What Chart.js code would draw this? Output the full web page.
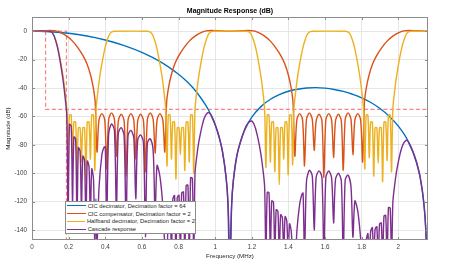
<!DOCTYPE html>
<html lang="en">
<head>
  <meta charset="UTF-8">
  <title>Magnitude Response (dB)</title>
  <script src="https://cdn.jsdelivr.net/npm/chart.js"></script>
  <style>
    * {
      margin: 0;
      padding: 0;
      box-sizing: border-box;
    }

    body {
      background: #fff;
      font-family: 'Liberation Sans', Arial, Helvetica, sans-serif;
    }

    .wrap {
      position: relative;
      width: 474px;
      height: 266px;
    }

    /* legend sits inside the axes, lower left */
    #legend {
      position: absolute;
      left: 65px;
      top: 201px;
      width: 131px;
      border: 1px solid #8c8c8c;
      background: #fff;
    }

    .row {
      display: flex;
      align-items: center;
      height: 7.8px;
      font-size: 5.8px;
      color: #262626;
      white-space: nowrap;
    }

    .swatch {
      display: inline-block;
      width: 19px;
      height: 0;
      border-top: 1.4px solid;
      margin-left: 1px;
      margin-right: 1.7px;
    }
  </style>
</head>
<body>
  <div class="wrap">
    <canvas id="magChart" width="474" height="266"></canvas>
    <div id="legend"></div>
  </div>

  <script>
    // frequency in MHz, magnitude in dB
    const xTicks = [0, 0.2, 0.4, 0.6, 0.8, 1, 1.2, 1.4, 1.6, 1.8, 2];
    const yTicks = [-140, -120, -100, -80, -60, -40, -20, 0];

    const legendLabels = [
      'CIC decimator, Decimation factor = 64',
      'CIC compensator, Decimation factor = 2',
      'Halfband decimator, Decimation factor = 2',
      'Cascade response'
    ];

    const cicDecimator = [
      [0,0],[0.1,-0.37],[0.2,-1.49],[0.3,-3.4],[0.4,-6.17],[0.5,-9.94],[0.6,-14.91],[0.7,-21.46],
      [0.8,-30.32],[0.85,-36],[0.9,-43.14],[0.95,-52.4],[0.98,-59.8],[1.0,-66.05],[1.02,-73.96],
      [1.04,-84.95],[1.06,-103.5],[1.07,-121.7],[1.075,-139.9],[1.08,-190],[1.085,-140.2],
      [1.09,-122.2],[1.1,-104.5],[1.12,-86.9],[1.14,-76.9],[1.16,-69.9],[1.2,-60.5],[1.25,-53.1],
      [1.3,-48.1],[1.35,-44.7],[1.4,-42.3],[1.45,-40.9],[1.5,-40],[1.55,-39.75],[1.6,-40.1],
      [1.65,-41],[1.7,-42.4],[1.75,-44.4],[1.8,-46.9],[1.85,-50.2],[1.9,-54.4],[1.95,-59.8],
      [2.0,-66.8],[2.05,-76.6],[2.1,-92.8],[2.13,-111.1],[2.15,-140],[2.16,-190]
    ];

    const cicCompensator = [
      [0,0],[0.06,0.3],[0.1,0.5],[0.13,0.2],[0.16,-1.2],[0.19,-3.5],[0.22,-6.8],[0.25,-11.5],
      [0.28,-17.5],[0.3,-23],[0.32,-31],[0.335,-40],[0.345,-50],[0.355,-85],
      [0.3656,-62.6],[0.3814,-58],[0.3973,-62.6],[0.4079,-97],
      [0.4185,-62.1],[0.4343,-57.5],[0.4502,-62.1],[0.4607,-88],
      [0.4713,-63.1],[0.4871,-58.5],[0.503,-63.1],[0.5136,-102],
      [0.5242,-62.6],[0.54,-58],[0.5559,-62.6],[0.5664,-90],
      [0.577,-63.1],[0.5929,-58.5],[0.6087,-63.1],[0.6193,-99],
      [0.6299,-62.1],[0.6457,-57.5],[0.6616,-62.1],[0.6721,-86],
      [0.6827,-62.6],[0.6986,-58],[0.7144,-62.6],[0.725,-85],
      [0.735,-50],[0.745,-40],[0.76,-31],[0.78,-23],[0.8,-17.5],[0.83,-11.5],[0.86,-6.8],
      [0.89,-3.5],[0.92,-1.2],[0.95,0.2],[0.98,0.5],[1.02,0.3],[1.08,0],[1.14,0.3],[1.18,0.5],
      [1.21,0.2],[1.24,-1.2],[1.27,-3.5],[1.3,-6.8],[1.33,-11.5],[1.36,-17.5],[1.38,-23],
      [1.4,-31],[1.415,-40],[1.425,-50],[1.435,-88],
      [1.4456,-62.6],[1.4614,-58],[1.4773,-62.6],[1.4879,-95],
      [1.4985,-62.1],[1.5143,-57.5],[1.5302,-62.1],[1.5407,-84],
      [1.5513,-63.1],[1.5671,-58.5],[1.583,-63.1],[1.5936,-103],
      [1.6042,-62.6],[1.62,-58],[1.6359,-62.6],[1.6464,-89],
      [1.657,-63.1],[1.6729,-58.5],[1.6887,-63.1],[1.6993,-98],
      [1.7099,-62.1],[1.7257,-57.5],[1.7416,-62.1],[1.7521,-87],
      [1.7627,-62.6],[1.7786,-58],[1.7944,-62.6],[1.805,-92],
      [1.815,-50],[1.825,-40],[1.84,-31],[1.86,-23],[1.88,-17.5],[1.91,-11.5],[1.94,-6.8],
      [1.97,-3.5],[2.0,-1.2],[2.03,0.2],[2.06,0.5],[2.1,0.3],[2.16,0]
    ];

    const halfband = [
      [0,0],[0.09,0],[0.1,-0.3],[0.11,-1],[0.12,-3],[0.13,-6.5],[0.14,-11],[0.15,-17],[0.16,-24],
      [0.17,-32],[0.18,-42],[0.19,-55],[0.197,-95],
      [0.2043,-59],[0.214,-59],[0.2213,-88],[0.2286,-64],[0.2383,-64],[0.2457,-100],
      [0.253,-68],[0.2627,-68],[0.27,-92],[0.2773,-68],[0.287,-68],[0.2943,-105],
      [0.3016,-64],[0.3113,-64],[0.3187,-90],[0.326,-59],[0.3357,-59],[0.343,-98],
      [0.35,-55],[0.36,-42],[0.37,-32],[0.38,-24],[0.39,-17],[0.4,-11],[0.41,-6.5],[0.42,-3],
      [0.43,-1],[0.44,-0.3],[0.45,0],[0.63,0],[0.64,-0.3],[0.65,-1],[0.66,-3],[0.67,-6.5],
      [0.68,-11],[0.69,-17],[0.7,-24],[0.71,-32],[0.72,-42],[0.73,-55],[0.737,-95],
      [0.7443,-59],[0.754,-59],[0.7613,-90],[0.7686,-64],[0.7783,-64],[0.7857,-104],
      [0.793,-68],[0.8027,-68],[0.81,-87],[0.8173,-68],[0.827,-68],[0.8343,-98],
      [0.8416,-64],[0.8513,-64],[0.8587,-92],[0.866,-59],[0.8757,-59],[0.883,-100],
      [0.89,-55],[0.9,-42],[0.91,-32],[0.92,-24],[0.93,-17],[0.94,-11],[0.95,-6.5],[0.96,-3],
      [0.97,-1],[0.98,-0.3],[0.99,0],[1.17,0],[1.18,-0.3],[1.19,-1],[1.2,-3],[1.21,-6.5],
      [1.22,-11],[1.23,-17],[1.24,-24],[1.25,-32],[1.26,-42],[1.27,-55],[1.277,-96],
      [1.2843,-59],[1.294,-59],[1.3013,-92],[1.3086,-64],[1.3183,-64],[1.3257,-99],
      [1.333,-68],[1.3427,-68],[1.35,-108],[1.3573,-68],[1.367,-68],[1.3743,-90],
      [1.3816,-64],[1.3913,-64],[1.3987,-101],[1.406,-59],[1.4157,-59],[1.423,-94],
      [1.43,-55],[1.44,-42],[1.45,-32],[1.46,-24],[1.47,-17],[1.48,-11],[1.49,-6.5],[1.5,-3],
      [1.51,-1],[1.52,-0.3],[1.53,0],[1.71,0],[1.72,-0.3],[1.73,-1],[1.74,-3],[1.75,-6.5],
      [1.76,-11],[1.77,-17],[1.78,-24],[1.79,-32],[1.8,-42],[1.81,-55],[1.817,-97],
      [1.8243,-59],[1.834,-59],[1.8413,-89],[1.8486,-64],[1.8583,-64],[1.8657,-102],
      [1.873,-68],[1.8827,-68],[1.89,-93],[1.8973,-68],[1.907,-68],[1.9143,-106],
      [1.9216,-64],[1.9313,-64],[1.9387,-91],[1.946,-59],[1.9557,-59],[1.963,-99],
      [1.97,-55],[1.98,-42],[1.99,-32],[2.0,-24],[2.01,-17],[2.02,-11],[2.03,-6.5],[2.04,-3],
      [2.05,-1],[2.06,-0.3],[2.07,0],[2.16,0]
    ];

    const cascade = [
      [0,0],[0.05,0.2],[0.1,-0.2],[0.11,-1],[0.12,-3.2],[0.13,-7],[0.14,-11.9],[0.15,-18.4],
      [0.16,-26.2],[0.17,-34.9],[0.18,-45.8],[0.19,-59.8],[0.197,-135],
      [0.2043,-65.6],[0.214,-66.8],[0.2213,-120],[0.2286,-74.5],[0.2383,-76],[0.2457,-135],
      [0.253,-82],[0.2627,-84.5],[0.27,-125],[0.2773,-88],[0.287,-91],[0.2943,-140],
      [0.3016,-91.5],[0.3113,-95.5],[0.3187,-132],[0.326,-97],[0.3357,-104],[0.343,-150],
      [0.349,-118],[0.355,-150],
      [0.366,-110],[0.3815,-87],[0.392,-82],[0.4,-81.5],[0.4079,-135],
      [0.4185,-72.3],[0.4343,-65.3],[0.4502,-70],[0.4607,-128],
      [0.4713,-71.9],[0.4871,-67.9],[0.503,-73.7],[0.5136,-140],
      [0.5242,-73.6],[0.54,-69.8],[0.5559,-75.2],[0.5664,-118],
      [0.577,-76.7],[0.5929,-73],[0.6087,-78.6],[0.6193,-145],
      [0.6299,-78.7],[0.6457,-75.7],[0.6616,-84.4],[0.6721,-130],
      [0.6827,-94.6],[0.6986,-102.4],[0.714,-122.6],[0.725,-150],[0.737,-160],
      [0.7443,-124.5],[0.754,-122],[0.7613,-160],[0.7686,-118.5],[0.7783,-115.7],[0.7857,-160],
      [0.793,-117.1],[0.8027,-115.6],[0.81,-160],[0.8173,-114],[0.827,-113.3],[0.8343,-160],
      [0.8416,-108.7],[0.8513,-108.4],[0.8587,-160],[0.866,-103.2],[0.8757,-103.6],[0.883,-160],
      [0.89,-100],[0.9,-87.7],[0.91,-78.5],[0.92,-71.7],[0.93,-65.9],[0.94,-61.5],[0.95,-58.8],
      [0.96,-57.4],[0.97,-57.8],[0.98,-59.6],[1.0,-65.6],[1.02,-73.6],[1.04,-84.6],[1.06,-103.2],
      [1.07,-121.4],[1.08,-190],
      [1.09,-121.9],[1.1,-104.2],[1.12,-86.5],[1.16,-69.5],[1.18,-64.5],[1.2,-63.2],[1.21,-65],
      [1.22,-68.3],[1.23,-73.3],[1.24,-79.5],[1.25,-86.9],[1.26,-96.6],[1.27,-109.5],[1.277,-160],
      [1.2843,-113.5],[1.294,-113.7],[1.3013,-160],[1.3086,-119.6],[1.3183,-120.3],[1.3257,-160],
      [1.333,-125.7],[1.3427,-126.9],[1.35,-160],[1.3573,-129.3],[1.367,-131.2],[1.3743,-160],
      [1.3816,-130.6],[1.3913,-133.9],[1.3987,-160],[1.406,-135.7],[1.4157,-141.3],[1.423,-160],
      [1.435,-170],
      [1.446,-141],[1.4615,-121.6],[1.4725,-115.3],[1.48,-113.9],[1.4879,-160],
      [1.4985,-105.8],[1.5143,-97.9],[1.5302,-101.9],[1.5407,-140],
      [1.5513,-102.9],[1.5671,-98.3],[1.583,-103],[1.5936,-160],
      [1.6042,-103],[1.62,-98.4],[1.6359,-103.4],[1.6464,-135],
      [1.657,-104.4],[1.6729,-100],[1.6887,-105.3],[1.6993,-160],
      [1.7099,-104.8],[1.7257,-101.3],[1.7416,-109.6],[1.7521,-145],
      [1.7627,-119.6],[1.7786,-126.7],[1.7944,-146.5],[1.805,-170],[1.817,-170],
      [1.8243,-147.8],[1.834,-142.5],[1.8413,-165],[1.8486,-141.3],[1.8583,-138.3],[1.8657,-165],
      [1.873,-139.5],[1.8827,-137.8],[1.89,-165],[1.8973,-135.9],[1.907,-135],[1.9143,-165],
      [1.9216,-130.2],[1.9313,-129.7],[1.9387,-165],[1.946,-124.3],[1.9557,-124.5],[1.963,-165],
      [1.97,-120.8],[1.98,-108.3],[1.99,-98.9],[2.0,-92],[2.01,-86.1],[2.02,-81.5],[2.03,-78.6],
      [2.04,-77],[2.05,-77.1],[2.06,-79],[2.08,-84.7],[2.1,-92.4],[2.12,-103.2],[2.14,-121.8],
      [2.15,-140],[2.16,-190]
    ];

    // spec mask (dashed)
    const maskStopband = [[0.074,0],[0.074,-55],[2.162,-55]];
    const maskPassband = [[0,0],[0.188,0],[0.188,-150]];

    const seriesColors = ['#0072BD', '#D95319', '#EDB120', '#7E2F8E'];
    const maskColor = 'rgba(248,110,110,0.85)';
    const fontFamily = "'Liberation Sans', Arial, Helvetica, sans-serif";

    const toPoints = arr => arr.map(([x, y]) => ({ x, y }));

    // html legend
    const legendEl = document.getElementById('legend');
    legendLabels.forEach((label, i) => {
      const row = document.createElement('div');
      row.className = 'row';
      const sw = document.createElement('span');
      sw.className = 'swatch';
      sw.style.borderTopColor = seriesColors[i];
      const txt = document.createElement('span');
      txt.textContent = label;
      row.appendChild(sw);
      row.appendChild(txt);
      legendEl.appendChild(row);
    });

    // axes box with inward ticks, like the original figure
    const axesBox = {
      id: 'axesBox',
      afterDraw(chart) {
        const { ctx, chartArea: a, scales } = chart;
        ctx.save();
        ctx.strokeStyle = '#8c8c8c';
        ctx.lineWidth = 1;
        ctx.strokeRect(a.left + 0.5, a.top + 0.5, a.right - a.left - 1, a.bottom - a.top - 1);
        ctx.beginPath();
        xTicks.forEach(v => {
          const px = Math.round(scales.x.getPixelForValue(v)) + 0.5;
          ctx.moveTo(px, a.bottom); ctx.lineTo(px, a.bottom - 3);
          ctx.moveTo(px, a.top); ctx.lineTo(px, a.top + 3);
        });
        yTicks.forEach(v => {
          const py = Math.round(scales.y.getPixelForValue(v)) + 0.5;
          ctx.moveTo(a.left, py); ctx.lineTo(a.left + 3, py);
          ctx.moveTo(a.right, py); ctx.lineTo(a.right - 3, py);
        });
        ctx.stroke();
        ctx.restore();
      }
    };

    const ctx = document.getElementById('magChart').getContext('2d');
    new Chart(ctx, {
      type: 'line',
      data: {
        datasets: [
          { label: legendLabels[3], data: toPoints(cascade), borderColor: seriesColors[3], tension: 0.3, order: 1 },
          { label: legendLabels[2], data: toPoints(halfband), borderColor: seriesColors[2], tension: 0.3, order: 2 },
          { label: legendLabels[1], data: toPoints(cicCompensator), borderColor: seriesColors[1], tension: 0.3, order: 3 },
          { label: legendLabels[0], data: toPoints(cicDecimator), borderColor: seriesColors[0], tension: 0.4, order: 4 },
          { label: 'mask', data: toPoints(maskStopband), borderColor: maskColor, borderDash: [4, 2.5], borderWidth: 1.2, tension: 0, order: 5 },
          { label: 'mask', data: toPoints(maskPassband), borderColor: maskColor, borderDash: [4, 2.5], borderWidth: 1.2, tension: 0, order: 5 }
        ]
      },
      options: {
        responsive: false,
        animation: false,
        devicePixelRatio: 1,
        layout: { padding: { left: 0, right: 46, top: 0, bottom: 0 } },
        elements: {
          point: { radius: 0 },
          line: { borderWidth: 1.4, fill: false }
        },
        plugins: {
          legend: { display: false },
          tooltip: { enabled: false },
          title: {
            display: true,
            text: 'Magnitude Response (dB)',
            fullSize: false,
            color: '#000',
            font: { family: fontFamily, size: 7, weight: 'bold', lineHeight: 1.2 },
            padding: { top: 7, bottom: 1.6 }
          }
        },
        scales: {
          x: {
            type: 'linear',
            min: 0,
            max: 2.162,
            afterBuildTicks: s => { s.ticks = xTicks.map(v => ({ value: v })); },
            afterFit: s => { s.height = 26; },
            grid: { color: '#e6e6e6', drawTicks: false },
            border: { display: false },
            ticks: {
              padding: 3,
              color: '#404040',
              maxRotation: 0,
              autoSkip: false,
              font: { family: fontFamily, size: 6.3 },
              callback: v => String(Math.round(v * 10) / 10)
            },
            title: {
              display: true,
              text: 'Frequency (MHz)',
              color: '#262626',
              font: { family: fontFamily, size: 6.2 },
              padding: { top: 0, bottom: 5.5 }
            }
          },
          y: {
            min: -147,
            max: 10,
            afterBuildTicks: s => { s.ticks = yTicks.map(v => ({ value: v })); },
            afterFit: s => { s.width = 32; },
            grid: { color: '#e6e6e6', drawTicks: false },
            border: { display: false },
            ticks: {
              padding: 5,
              color: '#404040',
              font: { family: fontFamily, size: 6.3 },
              callback: v => String(v)
            },
            title: {
              display: true,
              text: 'Magnitude (dB)',
              color: '#262626',
              font: { family: fontFamily, size: 6.2 },
              padding: { top: 4.2, bottom: 0 }
            }
          }
        }
      },
      plugins: [axesBox]
    });
  </script>
</body>
</html>
